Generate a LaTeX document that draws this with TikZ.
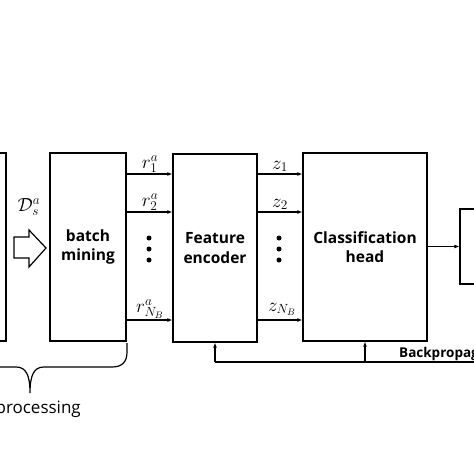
\documentclass[tikz,border=0pt]{standalone}
\usepackage{fix-cm}
\usepackage{fontspec}
\setmainfont{Open Sans}
\usetikzlibrary{arrows.meta}
\begin{document}
\begin{tikzpicture}[x=1pt,y=-1pt,
  blk/.style={draw,line width=1.2pt,rectangle,inner sep=0pt,align=center,font=\bfseries\fontsize{15.5}{19.5}\selectfont},
  arr/.style={line width=1.1pt,-{Latex[length=5pt,width=4pt]}},
  lbl/.style={inner sep=0pt,anchor=base,font=\fontsize{19}{21}\selectfont},
  dot/.style={circle,fill=black,inner sep=0pt,minimum size=5pt}]
\useasboundingbox (0,0) rectangle (474,474);
\clip (0,0) rectangle (474,474);
\fill[white] (0,0) rectangle (474,474);
% boxes
\node[blk,minimum width=60pt,minimum height=188pt] (prev) at (-24,247) {};
\node[blk,minimum width=76pt,minimum height=188pt] (bm) at (88,247) {batch\\mining};
\node[blk,minimum width=84pt,minimum height=188pt] (fe) at (215,248) {Feature\\encoder};
\node[blk,minimum width=124pt,minimum height=188pt] (ch) at (365,247) {Classification\\head};
\node[blk,minimum width=60pt,minimum height=75pt] (out) at (490,246.5) {};
% fat arrow
\draw[line width=1.2pt] (14,237) -- (29,237) -- (29,230) -- (46,248) -- (29,267) -- (29,258) -- (14,258) -- cycle;
\node[lbl] (ds) at (29,211) {$\mathcal{D}_s^a$};
% rows
\coordinate (y1) at (0,174);
\coordinate (y2) at (0,212);
\coordinate (y3) at (0,320);
\draw[arr] (bm.east |- y1) -- (fe.west |- y1);
\draw[arr] (bm.east |- y2) -- (fe.west |- y2);
\draw[arr] (bm.east |- y3) -- (fe.west |- y3);
\draw[arr] (fe.east |- y1) -- (ch.west |- y1);
\draw[arr] (fe.east |- y2) -- (ch.west |- y2);
\draw[arr] (fe.east |- y3) -- (ch.west |- y3);
\node[lbl] (r1) at (150,168) {$r_1^a$};
\node[lbl] (r2) at (150,206) {$r_2^a$};
\node[lbl] (r3) at (150,312) {$r_{N_B}^a$};
\node[lbl] (z1) at (280,169) {$z_1$};
\node[lbl] (z2) at (280,207) {$z_2$};
\node[lbl] (z3) at (282,311) {$z_{N_B}$};
\node[dot] (d1) at (149,238) {};
\node[dot] (d2) at (149,249) {};
\node[dot] (d3) at (149,260) {};
\node[dot] (e1) at (279,238) {};
\node[dot] (e2) at (279,249) {};
\node[dot] (e3) at (279,260) {};
\draw[arr] (ch.east |- out.west) -- (out.west);
% backprop
\coordinate (bpR) at (480,362);
\draw[line width=1.1pt] (bpR) -- (fe.south |- bpR);
\draw[arr] (fe.south |- bpR) -- (fe.south);
\draw[arr] (ch.south |- bpR) -- (ch.south);
\node[inner sep=0pt,anchor=base west,font=\bfseries\fontsize{13.5}{15}\selectfont] (bp) at (399,357) {Backpropagation};
% brace
\draw[line width=1.2pt] (127,343) -- (127,352) .. controls (127,362) and (122,367) .. (112,367) -- (44,367) .. controls (34,367) and (30,375) .. (30,393)
  .. controls (30,375) and (26,367) .. (16,367) -- (-52,367);
\node[inner sep=0pt,anchor=base east,font=\fontsize{17}{19}\selectfont] (pp) at (81,413) {Pre-processing};
\end{tikzpicture}
\end{document}
